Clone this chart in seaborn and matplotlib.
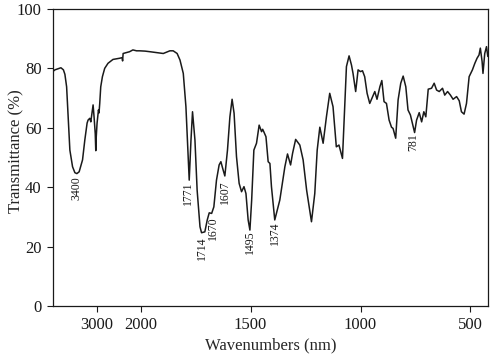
import numpy as np
import pandas as pd
import matplotlib
matplotlib.use("Agg")
import matplotlib.pyplot as plt
import seaborn as sns

# spectrum (wavenumber, transmittance %)
wavenumber = [4000, 3948, 3812, 3756, 3722, 3683, 3647, 3609, 3548, 3495, 3450, 3398,
              3321, 3269, 3217, 3195, 3156, 3133, 3081, 3059, 3032, 3020, 3009, 2991,
              2959, 2946, 2930, 2907, 2869, 2817, 2742, 2629, 2477, 2421, 2410, 2398,
              2251, 2176, 2093, 2025, 1980, 1958, 1897, 1867, 1852, 1834, 1821, 1806,
              1794, 1784, 1779, 1771, 1764, 1753, 1743, 1730, 1723, 1708, 1697, 1688,
              1677, 1667, 1655, 1643, 1635, 1627, 1617, 1605, 1594, 1584, 1575, 1564,
              1552, 1541, 1530, 1521, 1511, 1503, 1495, 1485, 1473, 1461, 1450, 1445,
              1440, 1430, 1420, 1412, 1405, 1390, 1367, 1344, 1332, 1318, 1309, 1295,
              1276, 1261, 1245, 1223, 1208, 1197, 1185, 1170, 1155, 1140, 1125, 1110,
              1098, 1082, 1072, 1064, 1052, 1041, 1034, 1022, 1011, 1000, 991, 981,
              970, 958, 945, 935, 925, 912, 903, 893, 882, 870, 859, 852, 840, 829,
              817, 806, 794, 784, 773, 764, 754, 745, 733, 722, 712, 703, 692, 677,
              665, 654, 642, 627, 617, 604, 591, 579, 563, 551, 541, 529, 518, 506,
              491, 480, 470, 461, 455, 447, 443, 435, 427, 421]
transmittance = [78.9, 79.5, 80.2, 79.5, 78.0, 73.8, 63.7, 52.5, 46.9, 44.9, 44.6, 45.2,
                 49.2, 55.9, 61.6, 62.6, 63.2, 62.0, 67.7, 63.7, 58.0, 52.3, 57.0, 61.5,
                 66.0, 65.0, 68.2, 73.8, 77.2, 80.0, 81.7, 83.0, 83.4, 83.6, 82.5, 85.0,
                 85.6, 86.2, 85.9, 85.9, 85.8, 85.6, 85.0, 85.9, 85.9, 85.0, 82.8, 78.3,
                 67.1, 50.3, 42.4, 55.9, 65.4, 55.9, 39.0, 26.7, 24.7, 25.0, 29.0, 31.4,
                 31.2, 33.4, 42.4, 47.5, 48.6, 46.4, 43.8, 52.5, 63.7, 69.6, 64.9, 50.3,
                 41.3, 38.5, 40.2, 37.9, 29.0, 25.6, 35.7, 52.5, 54.8, 60.9, 58.7, 59.5,
                 58.7, 57.0, 48.6, 48.0, 40.2, 29.0, 35.7, 46.9, 51.2, 47.5, 51.4, 56.1,
                 54.2, 49.2, 39.0, 28.4, 37.9, 52.5, 60.2, 54.8, 63.7, 71.6, 67.1, 53.6,
                 54.2, 49.7, 67.1, 80.6, 84.2, 81.1, 78.3, 72.2, 79.5, 78.9, 79.2, 77.2,
                 71.6, 68.2, 70.5, 72.2, 69.6, 73.8, 75.9, 68.8, 68.2, 62.6, 60.2, 59.8,
                 56.5, 69.4, 75.0, 77.4, 73.8, 66.0, 64.3, 61.5, 58.4, 62.6, 65.1, 62.0,
                 65.4, 63.7, 73.0, 73.3, 75.0, 72.7, 72.2, 73.3, 71.0, 72.2, 71.0, 69.6,
                 70.5, 69.1, 65.4, 64.6, 68.2, 77.2, 79.5, 81.7, 83.4, 84.5, 86.8, 82.3,
                 78.3, 85.0, 87.3, 84.0]

# peak labels
peak_labels = ["3400", "1771", "1714", "1670", "1607", "1495", "1374", "781"]
peak_x = [3450, 1784, 1723, 1673, 1617, 1503, 1390, 760]
peak_y = [43.6, 42.0, 23.5, 30.2, 42.4, 25.4, 28.4, 58.2]

x_ticks = [3000, 2000, 1500, 1000, 500]
y_ticks = [0, 20, 40, 60, 80, 100]

df = pd.DataFrame({"w": wavenumber, "T": transmittance})


# axis compressed 5x above 2000 (increasing map, axis inverted below)
def fwd(w):
    w = np.asarray(w, dtype=float)
    return -np.where(w >= 2000, (4000 - w) / 5.0, 400 + (2000 - w))


def inv(q):
    p = -np.asarray(q, dtype=float)
    return np.where(p <= 400, 4000 - 5 * p, 2000 - (p - 400))


sns.set_style("ticks")
plt.rcParams["font.family"] = ["Liberation Serif", "DejaVu Serif"]

fig, ax = plt.subplots(figsize=(4.9, 3.56), dpi=100)
fig.subplots_adjust(left=0.1075, right=0.996, top=0.975, bottom=0.14)

ax.set_xscale("function", functions=(fwd, inv))
sns.lineplot(data=df, x="w", y="T", sort=False, estimator=None,
             color="#1a1a1a", linewidth=1.1, ax=ax)

for lab, px, py in zip(peak_labels, peak_x, peak_y):
    ax.text(px, py, lab, rotation=90, ha="center", va="top",
            fontsize=8.5, color="#1a1a1a")

ax.set_xlim(4000, 420)
ax.set_ylim(0, 100)
ax.set_xticks(x_ticks)
ax.set_xticklabels([str(t) for t in x_ticks])
ax.set_yticks(y_ticks)
ax.minorticks_off()
ax.tick_params(labelsize=12, length=4, width=0.8, pad=4, colors="#1a1a1a")
for s in ax.spines.values():
    s.set_linewidth(0.9)
    s.set_color("#1a1a1a")

ax.set_xlabel("Wavenumbers (nm)", fontsize=12, labelpad=3)
ax.set_ylabel("Transmittance (%)", fontsize=12)
ax.yaxis.set_label_coords(-0.066, 0.52)

fig.savefig("out.png", dpi=100)
